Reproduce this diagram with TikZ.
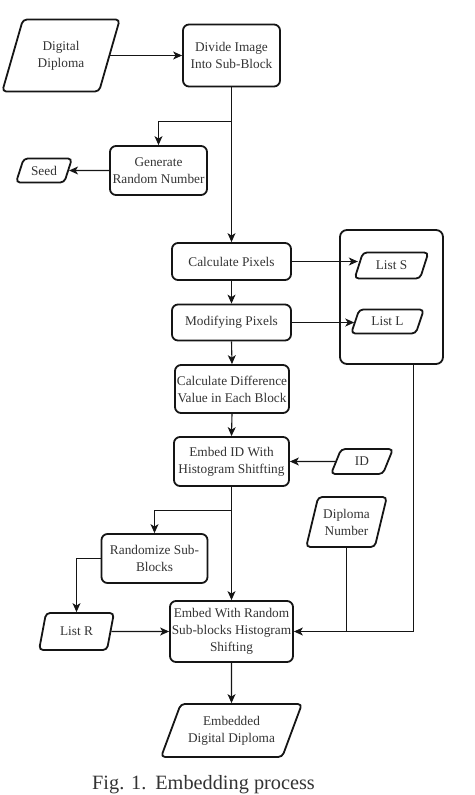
\documentclass[tikz,border=0pt]{standalone}
\usepackage{fontspec}
\setmainfont{Liberation Serif}
\usetikzlibrary{shapes.geometric,arrows.meta}
\definecolor{txt}{HTML}{333333}
\definecolor{ln}{HTML}{151515}
\tikzset{
  proc/.style={draw=ln, line width=1.8pt, rounded corners=6pt, align=center,
    text=txt, inner sep=1pt, font=\fontsize{13.3}{17}\selectfont},
  io/.style={trapezium, trapezium stretches=true, trapezium left angle=#1,
    trapezium right angle=180-#1, draw=ln, line width=1.8pt, rounded corners=4pt,
    align=center, text=txt, inner sep=1pt, font=\fontsize{13.3}{17}\selectfont},
  io/.default=66,
  conn/.style={draw=ln, line width=1.1pt, -{Stealth[length=9pt,width=8pt,inset=2.5pt]}},
  plain/.style={draw=ln, line width=1.1pt},
}
\begin{document}
\begin{tikzpicture}[x=1pt, y=-1pt]
\useasboundingbox (0,0) rectangle (474,795);
% nodes
\node[io=67, minimum width=118pt, minimum height=72pt] (dd) at (61,55.5) {Digital\\Diploma};
\node[proc, minimum width=97pt, minimum height=62pt] (div) at (231.5,55.5) {Divide Image\\Into Sub-Block};
\node[proc, minimum width=97pt, minimum height=49pt] (gen) at (158.5,170.5) {Generate\\Random Number};
\node[io=65, minimum width=56pt, minimum height=24pt] (seed) at (44,170.5) {Seed};
\node[proc, minimum width=119pt, minimum height=37pt] (cp) at (231.5,261.5) {Calculate Pixels};
\node[proc, minimum width=119pt, minimum height=36pt] (mp) at (231.5,322.5) {Modifying Pixels};
\node[proc, minimum width=114pt, minimum height=48pt] (cd) at (232,389) {Calculate Difference\\Value in Each Block};
\node[proc, minimum width=115pt, minimum height=49pt] (eid) at (231.5,461.5) {Embed ID With\\Histogram Shitfting};
\node[io=70, minimum width=62pt, minimum height=25pt] (id) at (362,461.5) {ID};
\node[draw=ln, line width=1.8pt, rounded corners=7pt, minimum width=103pt, minimum height=134pt, inner sep=0pt] (cont) at (391.5,297) {};
\node[io=66, minimum width=74pt, minimum height=26pt] (ls) at (391.5,265.5) {List S};
\node[io=66, minimum width=73pt, minimum height=24pt] (ll) at (387.5,321.5) {List L};
\node[io=70, minimum width=81pt, minimum height=50pt] (dn) at (346.5,522) {Diploma\\Number};
\node[proc, minimum width=106pt, minimum height=49pt] (rs) at (154.5,558.5) {Randomize Sub-\\Blocks};
\node[io=70, minimum width=75pt, minimum height=37pt] (lr) at (76.5,631.5) {List R};
\node[proc, minimum width=123pt, minimum height=61pt] (ewr) at (231.5,631.5) {Embed With Random\\Sub-blocks Histogram\\Shifting};
\node[io=61, minimum width=141pt, minimum height=53pt] (edd) at (231.5,730.5) {Embedded\\Digital Diploma};
\node[anchor=base west, text=txt, inner sep=0pt, font=\fontsize{20.3}{24}\selectfont] (cap) at (92,789) {Fig. 1.\hspace{9pt}Embedding process};
% coordinates
\coordinate (b1) at (231.5,121.5);
\coordinate (b2) at (231.5,510.5);
\coordinate (c1) at (413.5,364);
% connectors
\draw[conn] (dd.east |- div.west) -- (div.west);
\draw[conn] (div.south) -- (cp.north);
\draw[conn] (b1) -| (gen.north);
\draw[conn] (gen.west) -- (seed.east);
\draw[conn] (cp.east) -- (ls.west |- cp.east);
\draw[conn] (cp.south) -- (mp.north);
\draw[conn] (mp.east) -- (ll.west |- mp.east);
\draw[conn] (mp.south) -- (cd.north);
\draw[conn] (cd.south) -- (eid.north);
\draw[conn] (id.west) -- (eid.east);
\draw[conn] (eid.south) -- (ewr.north);
\draw[conn] (b2) -| (rs.north);
\draw[conn] (rs.west) -| (lr.north);
\draw[conn] (lr.east) -- (ewr.west);
\draw[conn] (c1) |- (ewr.east);
\draw[plain] (dn.south) -- (dn.south |- ewr.east);
\draw[conn] (ewr.south) -- (edd.north);
\end{tikzpicture}
\end{document}
